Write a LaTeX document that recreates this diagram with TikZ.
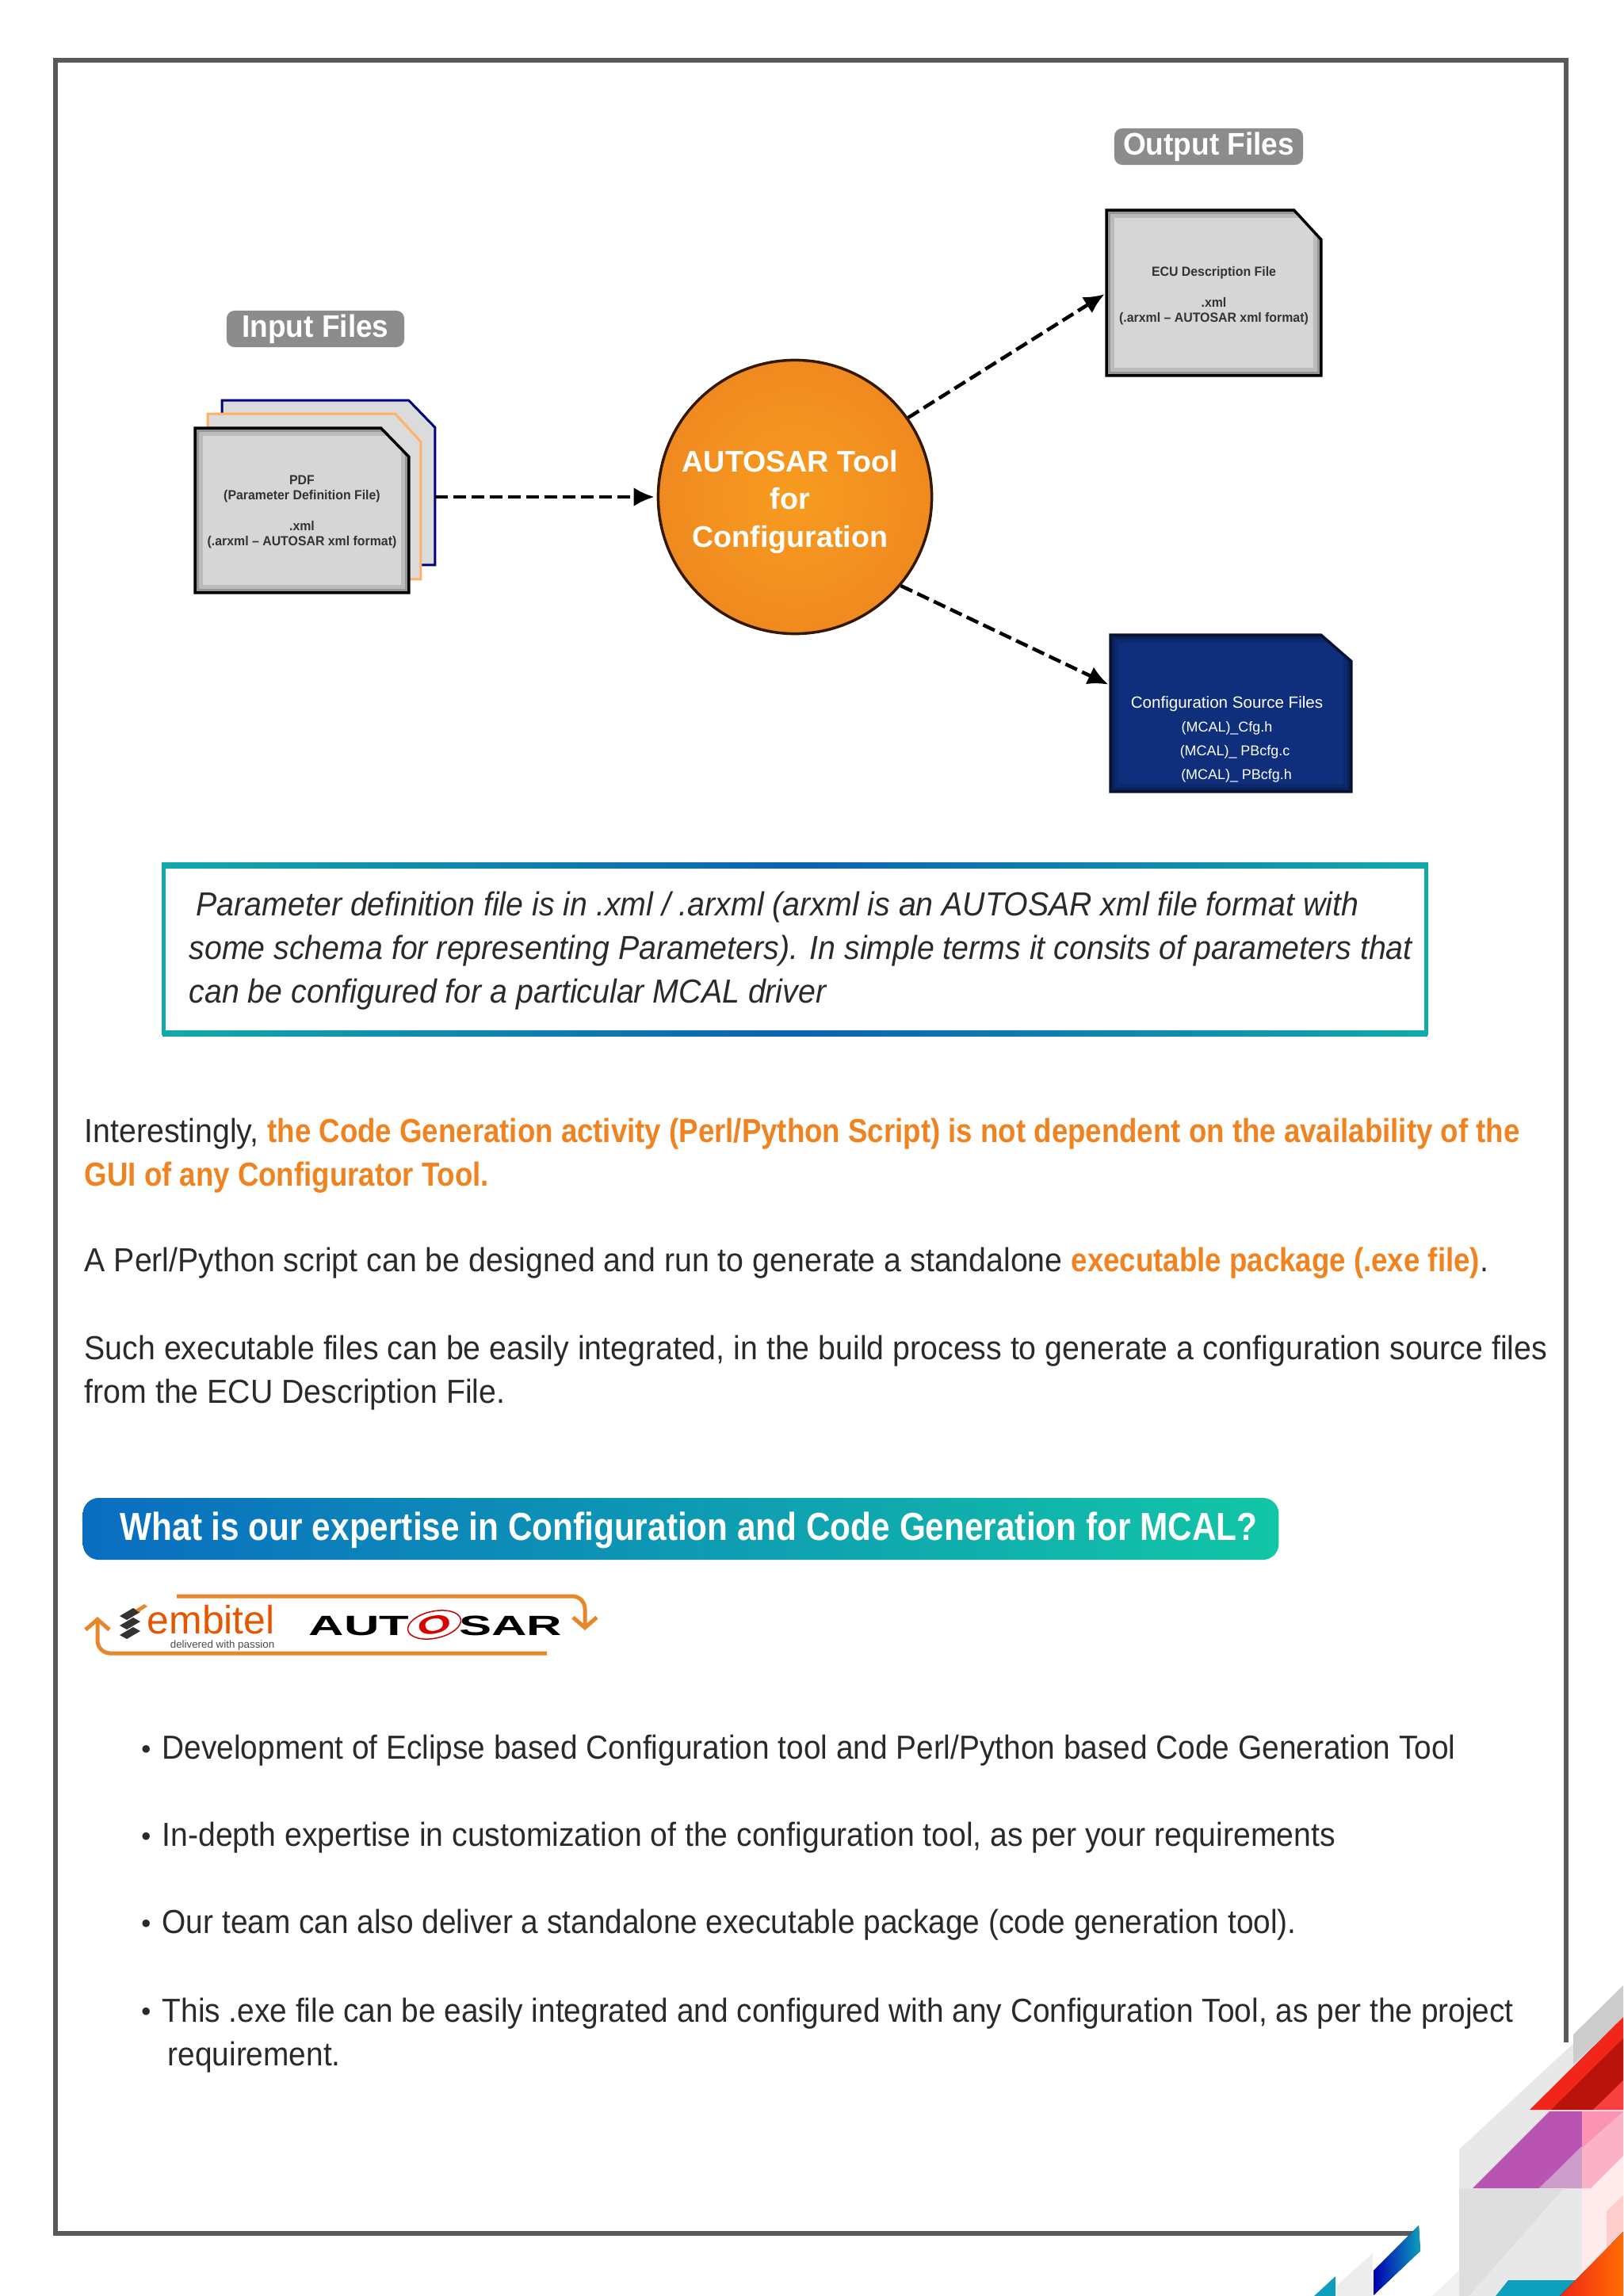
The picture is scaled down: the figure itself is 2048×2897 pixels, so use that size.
\documentclass[tikz,border=0pt]{standalone}
\usepackage{fontspec}
\setmainfont[FakeStretch=.935]{Liberation Sans}
\newfontfamily\itemfont[FakeStretch=.924]{Liberation Sans}
\newfontfamily\medfont[FakeStretch=.872]{Liberation Sans}
\newfontfamily\headfont[FakeStretch=.86]{Liberation Sans}
\newfontfamily\filefont[FakeStretch=.95]{Liberation Sans}
\newfontfamily\plainfont{Liberation Sans}
\newfontfamily\pillfont[FakeStretch=.94]{Liberation Sans}
\newfontfamily\autofont[FakeStretch=1.75]{Liberation Sans}
\usetikzlibrary{arrows.meta,positioning,shapes.geometric}
\definecolor{framegray}{HTML}{59595B}
\definecolor{bodyink}{HTML}{2A2A2C}
\definecolor{accent}{HTML}{F0831F}
\definecolor{logoorange}{HTML}{E8862C}
\definecolor{teal}{HTML}{12A9A9}
\definecolor{deepblue}{HTML}{0B62B0}
\definecolor{navyfile}{HTML}{0F2F7D}
\definecolor{headleft}{HTML}{0A6DC0}
\definecolor{headright}{HTML}{12C6A6}
\definecolor{toolinner}{HTML}{F89C20}
\definecolor{toolouter}{HTML}{F08A20}
\definecolor{cornerpurple}{HTML}{B954B2}
\definecolor{cornerlilac}{HTML}{CC9CCB}
\definecolor{cornerpink}{HTML}{FBB2C6}
\definecolor{cornerrose}{HTML}{FC92B4}
\definecolor{cornerred}{HTML}{F0261A}
\definecolor{cornerdark}{HTML}{B8140C}
\definecolor{cornerlight}{HTML}{F84040}
\definecolor{cornerteal}{HTML}{0E9FBC}
\newcommand{\bul}{\makebox[.27cm][l]{\raisebox{.35ex}{$\scriptscriptstyle\bullet$}}}
\newcommand{\hl}[1]{{\medfont\bfseries\color{accent}#1}}
\newcommand{\sheetpath}[3]{(#1.south west) -- (#1.north west) -- ([xshift=-#2]#1.north east) -- ([yshift=-#3]#1.north east) -- (#1.south east) -- cycle}

\begin{document}
\begin{tikzpicture}[x=.01cm,y=-.01cm,
  filebase/.style={rectangle, inner sep=0pt},
  sheet/.style={line width=.035cm, draw=black, fill=black!16,
    path picture={\draw[black, opacity=.12, line width=.2cm]
        (path picture bounding box.south west) rectangle (path picture bounding box.north east);
      \draw[black, opacity=.2, line width=.09cm]
        (path picture bounding box.south west) rectangle (path picture bounding box.north east);}},
  backsheet/.style={line width=.03cm, fill=black!14},
  filetext/.style={align=center, text=black!80, inner sep=0pt, font=\fontsize{4.75}{5.4}\selectfont\filefont\bfseries},
  pill/.style={fill=black!45, rounded corners=.1cm, inner sep=0pt, text=white, font=\fontsize{11.2}{13}\selectfont\pillfont\bfseries},
  flow/.style={-{Latex[length=.26cm,width=.24cm]}, line width=.045cm, dash pattern=on .16cm off .07cm, shorten >=.03cm},
  para/.style={anchor=west, align=left, inner sep=0pt, text=bodyink, font=\fontsize{11.95}{15.65}\selectfont},
  item/.style={para, font=\fontsize{11.95}{15.65}\selectfont\itemfont},
  looparrow/.style={-{Straight Barb[length=.13cm,width=.3cm,line width=.05cm]}, logoorange, line width=.05cm, rounded corners=.16cm}
]
\useasboundingbox (0,0) rectangle (2048,2897);

\draw[framegray, line width=.055cm] (1790,2818) -- (70,2818) -- (70,76) -- (1976,76) -- (1976,2577);

% input and output files
\node[pill, minimum width=2.24cm, minimum height=.46cm] (inputlabel) at (398,415) {Input Files};
\node[filebase, minimum width=2.67cm, minimum height=2.06cm] (inputback) at (414.5,609) {};
\node[filebase, minimum width=2.67cm, minimum height=2.07cm] (inputmid) at (396.5,626.5) {};
\node[filebase, minimum width=2.68cm, minimum height=2.06cm] (inputfront) at (381,644) {};
\draw[backsheet, draw=blue!50!black] \sheetpath{inputback}{.33cm}{.34cm};
\draw[backsheet, draw=orange!60!white] \sheetpath{inputmid}{.32cm}{.35cm};
\draw[sheet] \sheetpath{inputfront}{.35cm}{.36cm};
\node[filetext] (inputtext) at ([yshift=-.02cm]inputfront) {PDF\\(Parameter Definition File)\\[.2cm].xml\\(.arxml \textendash\ AUTOSAR xml format)};

\node[pill, minimum width=2.38cm, minimum height=.46cm] (outputlabel) at (1525,185) {Output Files};
\node[filebase, minimum width=2.69cm, minimum height=2.07cm] (ecufile) at (1531.5,369.5) {};
\draw[sheet] \sheetpath{ecufile}{.34cm}{.37cm};
\node[filetext] (ecutext) at ([yshift=-.04cm]ecufile) {ECU Description File\\[.2cm].xml\\(.arxml \textendash\ AUTOSAR xml format)};

\node[filebase, minimum width=3.02cm, minimum height=1.96cm] (srcfile) at (1553,900) {};
\draw[sheet, fill=navyfile, draw=black!60!navyfile] \sheetpath{srcfile}{.38cm}{.33cm};
\node[filetext, text=white, font=\fontsize{5.1}{8.5}\selectfont\plainfont] (srctext) at ([xshift=-.05cm,yshift=-.33cm]srcfile)
  {{\fontsize{5.85}{8.5}\selectfont Configuration Source Files}\\(MCAL)\_Cfg.h\\\hspace{.2cm}(MCAL)\_ PBcfg.c\\\hspace{.24cm}(MCAL)\_ PBcfg.h};

\node[circle, minimum size=3.45cm, inner sep=0pt, draw=black!80!orange, line width=.035cm,
  inner color=toolinner, outer color=toolouter] (tool) at (1003,627) {};
\node[align=center, inner sep=0pt, text=white, font=\fontsize{10.7}{13.5}\selectfont\plainfont\bfseries] (tooltext) at ([xshift=-.06cm,yshift=-.06cm]tool)
  {AUTOSAR Tool\\for\\Configuration};

\draw[flow] (inputback.east |- tool.west) -- (tool.west);
\draw[flow] (tool.35) -- (ecufile.west);
\draw[flow] (tool.-40) -- ([yshift=.35cm]srcfile.west);

% note
\node[draw=teal, line width=.05cm, minimum width=15.92cm, minimum height=2.12cm, inner sep=0pt] (notebox) at (1003,1197) {};
\fill[left color=teal, right color=deepblue] (205,1088) rectangle (1003,1095);
\fill[left color=deepblue, right color=teal] (1003,1088) rectangle (1801,1095);
\fill[left color=teal, right color=deepblue] (205,1300) rectangle (1003,1307);
\fill[left color=deepblue, right color=teal] (1003,1300) rectangle (1801,1307);
\node[para, font=\fontsize{11.95}{15.65}\selectfont\itshape] (notetext) at (238,1200)
  {\hspace{.09cm}Parameter definition file is in .xml / .arxml (arxml is an AUTOSAR xml file format with\\
   some schema for representing Parameters). In simple terms it consits of parameters that\\
   can be configured for a particular MCAL driver};

% body text
\node[para] (paraone) at (106,1458)
  {Interestingly, \hl{the Code Generation activity (Perl/Python Script) is not dependent on the availability of the}\\
   \hl{GUI of any Configurator Tool.}};
\node[para] (paratwo) at (106,1594)
  {A Perl/Python script can be designed and run to generate a standalone \hl{executable package (.exe file)}.};
\node[para] (parathree) at (106,1732)
  {Such executable files can be easily integrated, in the build process to generate a configuration source files\\
   from the ECU Description File.};

\node[left color=headleft, right color=headright, rounded corners=.2cm, minimum width=15.08cm, minimum height=.78cm,
  inner sep=0pt] (headbar) at (859,1929) {};
\node[anchor=west, inner sep=0pt, text=white, font=\fontsize{14}{16}\selectfont\headfont\bfseries] (headtext) at (151,1931)
  {What is our expertise in Configuration and Code Generation for MCAL?};

% logos
\foreach \y in {2039,2051,2063}
  \fill[black!80] (151,\y) -- (168,\y-10) -- (177,\y-5) -- (160,\y+5) -- cycle;
\fill[logoorange] (171,2031) -- (182,2024) -- (186,2027) -- (175,2034) -- cycle;
\node[anchor=base west, inner sep=0pt, text depth=0pt, text=orange!75!red!90!black, font=\fontsize{14.2}{16}\selectfont\plainfont] (embitel) at (185,2061) {embitel};
\node[anchor=base east, inner sep=0pt, text height=.08cm, text=black!70, font=\fontsize{3.8}{4}\selectfont\plainfont] (slogan) at (347,2079) {delivered with passion};
\node[anchor=base west, inner sep=0pt, font=\fontsize{10}{12}\selectfont\autofont\bfseries] (autoleft) at (389,2063) {AUT};
\node[ellipse, draw=red!80!black, line width=.015cm, minimum width=.68cm, minimum height=.34cm, inner sep=0pt, text=red!85!black, rotate=12,
  font=\fontsize{9}{10}\selectfont\autofont\bfseries] (autoring) at (548,2050) {O};
\node[anchor=base east, inner sep=0pt, font=\fontsize{10}{12}\selectfont\autofont\bfseries] (autoright) at (710,2063) {SAR};

\coordinate (toploop) at (223,2014);
\coordinate (topcorner) at (738,2014);
\coordinate (toptip) at (738,2057);
\coordinate (botloop) at (690,2086);
\coordinate (botcorner) at (123,2086);
\coordinate (bottip) at (123,2040);
\draw[looparrow] (toploop) -- (topcorner) -- (toptip);
\draw[looparrow] (botloop) -- (botcorner) -- (bottip);

% bullets
\node[item] (itemone) at (177,2209) {\bul Development of Eclipse based Configuration tool and Perl/Python based Code Generation Tool};
\node[item] (itemtwo) at (177,2319) {\addfontfeature{FakeStretch=.932}\bul In-depth expertise in customization of the configuration tool, as per your requirements};
\node[item] (itemthree) at (177,2429) {\bul Our team can also deliver a standalone executable package (code generation tool).};
\node[item] (itemfour) at (177,2568) {\bul This .exe file can be easily integrated and configured with any Configuration Tool, as per the project\\
  \hspace{.34cm}requirement.};

% corner artwork
\fill[fill=black!9] (1841,2712) -- (2048,2520) -- (2048,2897) -- (1841,2897) -- cycle;
\fill[fill=black!20] (1985,2567) -- (2048,2505) -- (2048,2545) -- (1985,2605) -- cycle;
\fill[fill=black!13] (1841,2762) -- (1972,2762) -- (1853,2897) -- (1841,2897) -- cycle;
\fill[fill=black!6] (1807,2897) -- (1841,2865) -- (1841,2897) -- cycle;
\fill[fill=red!8!white] (1996,2761) -- (2048,2710) -- (2048,2897) -- (1996,2897) -- cycle;
\fill[fill=red!20!white] (2027,2790) -- (2048,2770) -- (2048,2897) -- (2027,2897) -- cycle;
\fill[cornerred] (1930,2662) -- (2048,2545) -- (2048,2662) -- cycle;
\fill[cornerdark] (1957,2662) -- (2048,2572) -- (2048,2625) -- (2010,2662) -- cycle;
\fill[cornerlight] (2010,2662) -- (2048,2625) -- (2048,2662) -- cycle;
\fill[cornerpurple] (1858,2761) -- (1955,2664) -- (1996,2664) -- (1996,2708) -- (1942,2761) -- cycle;
\fill[cornerlilac] (1942,2761) -- (1996,2708) -- (1996,2761) -- cycle;
\fill[cornerpink] (1996,2664) -- (2048,2664) -- (2048,2720) -- (2007,2761) -- (1996,2761) -- cycle;
\fill[cornerrose] (1996,2664) -- (2048,2664) -- (1996,2710) -- cycle;
\fill[cornerteal] (1887,2897) -- (1903,2877) -- (2038,2877) -- (2027,2897) -- cycle;
\fill[left color=cornerred, right color=orange!85!red] (1968,2897) -- (2048,2816) -- (2048,2897) -- cycle;
\fill[left color=blue!70!black, right color=cornerteal] (1733,2865) -- (1790,2808) -- (1792,2840) -- (1733,2896) -- cycle;
\fill[fill=black!7] (1687,2883) -- (1732,2843) -- (1732,2897) -- (1687,2897) -- cycle;
\fill[cornerteal] (1658,2897) -- (1685,2872) -- (1685,2897) -- cycle;
\end{tikzpicture}
\end{document}
